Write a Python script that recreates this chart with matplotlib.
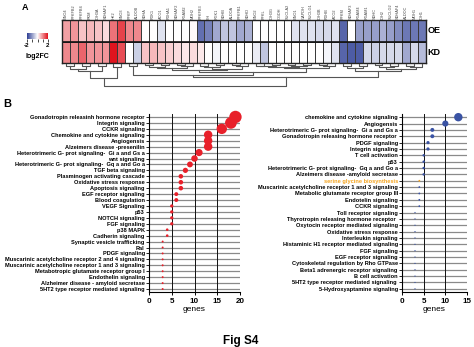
import matplotlib
matplotlib.use('Agg')
import matplotlib.pyplot as plt
import numpy as np
from matplotlib.colors import LinearSegmentedColormap

plt.rcParams['font.family'] = ['Liberation Sans', 'DejaVu Sans']
plt.rcParams['font.weight'] = 'bold'

# ---- panel A: log2FC heatmap of metabolic genes ----
genes = ['ENO4', 'PFKFB2', 'PFKFB4', 'PKM', 'IDH3A', 'SDHAF1', 'HK2', 'ENO3', 'PFKP', 'ALDOB',
         'SDHA', 'PDK1', 'ACO1', 'PDHA1', 'SDHAF2', 'PGAM2', 'MDH2', 'PFKFB3', 'FH', 'PGK1',
         'SDHB', 'ALDOA', 'PFKFB1', 'SDHD', 'ENO2', 'PFKL', 'IDH3G', 'OGDH', 'SUCLA2', 'ENO1',
         'GAPDH', 'SUCLG1', 'IDH3B', 'PDHB', 'ACO2', 'PFKM', 'SDHAF3', 'PGAM4', 'PGAM1', 'SDHC',
         'IDH2', 'SUCLG2', 'SDHAF4', 'ALDOC', 'MDH1', 'IDH1']
oe = [0.8, 0.9, 0.5, 0.6, 0.5, 0.3, 1.2, 1.6, 1.0, 1.0,
      0.0, 0.0, -0.3, 0.0, 0.0, 0.0, 0.05, -1.5, -1.3, -0.9,
      -0.6, -0.6, -0.9, -0.8, 0.0, 0.0, 0.0, 0.0, 0.0, -0.3,
      -0.3, -0.3, -0.4, -0.4, -0.3, -1.6, 0.0, -1.0, -1.0, -1.0,
      -0.8, -1.0, -1.2, -1.4, -1.4, -1.4]
kd = [1.0, 1.0, 1.3, 0.9, 0.9, 0.9, 2.0, 1.5, 0.0, -0.5,
      0.5, 0.6, 0.5, 0.4, 0.3, 0.2, 0.3, 0.2, 0.0, -0.1,
      0.0, 0.0, 0.0, 0.0, -0.2, -0.6, 0.0, 0.0, 0.0, 0.0,
      0.0, 0.0, 0.0, -0.1, -0.3, -1.6, -1.7, -1.7, -0.4, -0.5,
      -0.4, -0.4, -0.4, -0.9, -0.4, -0.7]
conditions = ['OE', 'KD']

# column clustering tree: (left, right, merge height in px below the heatmap)
tree_a = (((0, 1, 3), (2, 3, 3), 6), (4, 5, 3), 8)
tree_b = (6, 7, 4)
tree_c = (8, 9, 3)
tree_d1 = (((10, 11, 2), (12, 13, 2), 3.5), ((14, 15, 1.5), 16, 2.5), 4.5)
tree_d2 = (((17, 18, 2.5), (19, 20, 2), 4), ((21, 22, 2), 23, 3), 6)
tree_d3 = ((((24, 25, 2.5), (26, 27, 1.5), 3), ((28, 29, 1.5), (30, 31, 2), 2.5), 3.5),
           ((32, 33, 2), 34, 3), 4.5)
tree_e = (((35, 36, 2.5), (37, 38, 3), 5),
          (((39, 40, 2), (41, 42, 2.5), 4), ((43, 44, 2.5), 45, 3.5), 5.5), 8)
col_tree = ((tree_a, tree_b, 15),
            ((tree_c, ((tree_d1, tree_d2, 7), tree_d3, 9), 12), tree_e, 14), 23)

# ---- panel B: enriched pathways ----
up_paths = ['Gonadotropin releasinh hormone receptor', 'Integrin signaling', 'CCKR signaling',
            'Chemokine and cytokine signaling', 'Angiogensis', 'Alzeimers disease -presenilin',
            'Heterotrimeric G- prot signaling-  Gi a and Gs a', 'wnt signaling',
            'Heterotrimeric G- prot signaling-  Gq a and Go a', 'TGF beta signaling',
            'Plasminogen activating cascade', 'Oxidative stress response', 'Apoptosis signaling',
            'EGF receptor signaling', 'Blood coagulation', 'VEGF Signaling', 'p53',
            'NOTCH signaling', 'FGF signaling', 'p38 MAPK', 'Cadherin signaling',
            'Synaptic vesicle trafficking', 'Ral', 'PDGF signaling',
            'Muscarinic acetylcholine receptor 2 and 4 signaling',
            'Muscarinic acetylcholine receptor 1 and 3 signaling',
            'Metabotropic glutamate receptor group I', 'Endothelin signaling',
            'Alzheimer disease - amyloid secretase', '5HT2 type receptor mediated signaling']
up_genes = [19, 18, 16, 13, 13, 13, 11, 10, 9, 8, 7, 7, 7, 6, 6, 5, 5, 5, 5, 4, 4,
            3, 3, 3, 3, 3, 3, 3, 3, 3]

down_paths = ['chemokine and cytokine signaling', 'Angiogensis',
              'Heterotrimeric G- prot signaling-  Gi a and Gs a',
              'Gonadotropin releasing hormone receptor ', 'PDGF signaling', 'Integrin signaling',
              'T cell activation', 'p53', 'Heterotrimeric G- prot signaling-  Gq a and Go a',
              'Alzeimers disease -amyloid secretase', 'serine glycine biosynthesis',
              'Muscarinic acetylcholine receptor 1 and 3 signaling',
              'Metabolic glutamate receptor group III', 'Endotelin signaling', 'CCKR signaling',
              'Toll receptor signaling', 'Thyrotropin releasing hormone receptor ',
              'Oxytocin receptor mediated signaling', 'Oxidative stress response',
              'Interleukin signaling', 'Histaminic H1 receptor mediated signaling',
              'FGF signaling', 'EGF receptor signaling', 'Cytoskeletal regulation by Rho GTPase',
              'Beta1 adrenergic receptor signaling', 'B cell activation',
              '5HT2 type receptor mediated signaling ', '5-Hydroxyaptamine signaling']
down_genes = [13, 10, 7, 7, 6, 6, 5, 5, 5, 5, 4, 4, 4, 4, 4,
              3, 3, 3, 3, 3, 3, 3, 3, 3, 3, 3, 3, 3]
highlight = 'serine glycine biosynthesis'

W, H = 474, 347
fig = plt.figure(figsize=(W / 100, H / 100), dpi=100)


def box(x0, y0, x1, y1):
    return [x0 / W, 1 - y1 / H, (x1 - x0) / W, (y1 - y0) / H]


cmap = LinearSegmentedColormap.from_list('bwr_fc', ['#2e3f95', '#ffffff', '#e0141e'])

# heatmap
ax_h = fig.add_axes(box(62, 20, 426, 63))
mat = np.array([oe, kd])
ax_h.pcolormesh(mat, cmap=cmap, vmin=-2, vmax=2, edgecolors='#3a3a3a', linewidth=0.4)
ax_h.set_xlim(0, len(genes))
ax_h.set_ylim(2, 0)
ax_h.axhline(1, color='#111111', lw=1.2)
ax_h.set_xticks(np.arange(len(genes)) + 0.5)
ax_h.set_xticklabels(genes, rotation=90, fontsize=2.8, fontweight='normal', color='#444444')
ax_h.xaxis.tick_top()
ax_h.tick_params(length=0, pad=1)
ax_h.set_yticks([])
for s in ax_h.spines.values():
    s.set_linewidth(1.0)
    s.set_color('#222222')
for i, c in enumerate(conditions):
    ax_h.text(len(genes) + 0.2, i + 0.5, c, fontsize=6.5, va='center', ha='left')


# dendrogram below the heatmap
ax_d = fig.add_axes(box(62, 63, 426, 88))
segs = []


def walk_tree(node):
    if isinstance(node, int):
        return node + 0.5, 1.0
    left, right, h = node
    xl, hl = walk_tree(left)
    xr, hr = walk_tree(right)
    segs.append(([xl, xl, xr, xr], [hl, h, h, hr]))
    return (xl + xr) / 2, h


walk_tree(col_tree)
for xs, hs in segs:
    ax_d.plot(xs, hs, color='#555555', lw=0.8, clip_on=False)
ax_d.set_xlim(0, len(genes))
ax_d.set_ylim(25, 0)
ax_d.axis('off')

# colour key
ax_c = fig.add_axes(box(27, 33, 48, 39))
ax_c.imshow(np.linspace(-2, 2, 100)[None, :], cmap=cmap, aspect='auto', extent=[-2, 2, 0, 1])
ax_c.set_yticks([])
ax_c.set_xticks([-2, -1, 0, 1, 2])
ax_c.set_xticklabels(['-2', '', '', '', '2'], fontsize=4.5)
ax_c.tick_params(axis='x', length=2.5, width=0.5, pad=0.3)
for s in ax_c.spines.values():
    s.set_visible(False)
fig.text(37.5 / W, 1 - 56 / H, 'log2FC', fontsize=5, ha='center', va='center')

fig.text(25 / W, 1 - 7 / H, 'A', fontsize=6.5, ha='center', va='center')
fig.text(7 / W, 1 - 104 / H, 'B', fontsize=8, ha='center', va='center')


def dot_panel(rect, names, counts, color, xmax, ticks, size_fn):
    ax = fig.add_axes(rect)
    n = len(names)
    y = np.arange(n)
    ax.hlines(y, 0, xmax, color='#8a8a8a', lw=0.9, zorder=1)
    for t in ticks[1:]:
        if t < xmax:
            ax.axvline(t, color='#111111', lw=0.7, zorder=1)
    cols = ['#f5a41f' if p == highlight else color for p in names]
    ax.scatter(counts, y, s=[size_fn(c) for c in counts], c=cols, zorder=3,
               linewidths=0, clip_on=False)
    ax.set_xlim(0, xmax)
    ax.set_ylim(n - 0.5, -0.5)
    ax.set_yticks(y)
    ax.set_yticklabels(names, fontsize=4.1)
    for lab in ax.get_yticklabels():
        if lab.get_text() == highlight:
            lab.set_color('#f5a41f')
    ax.set_xticks(ticks)
    ax.set_xticklabels([str(t) for t in ticks], fontsize=5.8)
    ax.tick_params(axis='y', length=2, width=0.6, pad=1)
    ax.tick_params(axis='x', length=2.5, width=0.7, pad=1.5)
    ax.spines['top'].set_visible(False)
    ax.spines['right'].set_visible(False)
    ax.spines['left'].set_linewidth(0.8)
    ax.spines['bottom'].set_linewidth(0.8)
    ax.set_xlabel('genes', fontsize=6, labelpad=1)
    return ax


dot_panel(box(149, 114, 240, 292), up_paths, up_genes, '#e8202a', 20,
          [0, 5, 10, 15, 20], lambda g: 0.22 * g ** 2)
dot_panel(box(402, 114, 467, 292), down_paths, down_genes, '#3a53a4', 15,
          [0, 5, 10, 15], lambda g: 0.3 * (g - 2) ** 2 + 0.5)

fig.text(241 / W, 1 - 341 / H, 'Fig S4', fontsize=8.5, ha='center', va='center')

fig.savefig('out.png', dpi=100)
